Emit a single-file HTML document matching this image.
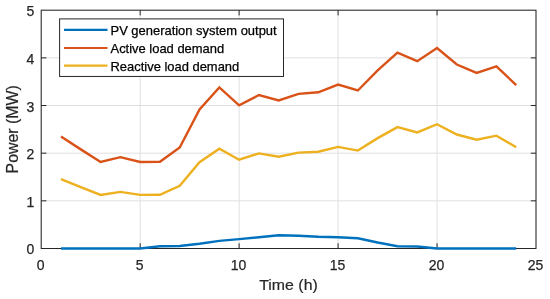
<!DOCTYPE html>
<html><head><meta charset="utf-8"><title>Power</title>
<style>
html,body{margin:0;padding:0;background:#fff;}
body{width:550px;height:299px;overflow:hidden;}
svg{display:block;}
text{font-family:"Liberation Sans",sans-serif;fill:#262626;}
.tk{font-size:14px;stroke:#262626;stroke-width:0.25px;}
.lb{font-size:15.9px;stroke:#262626;stroke-width:0.2px;}
.lg{font-size:12.95px;fill:#000;stroke:#000;stroke-width:0.25px;}
</style></head><body>
<svg width="550" height="299" viewBox="0 0 550 299">
<rect x="0" y="0" width="550" height="299" fill="#fff"/>
<path d="M41.20 10.2 V248.5 M140.16 10.2 V248.5 M239.12 10.2 V248.5 M338.08 10.2 V248.5 M437.04 10.2 V248.5 M536.00 10.2 V248.5 M41.2 248.50 H536.0 M41.2 200.84 H536.0 M41.2 153.18 H536.0 M41.2 105.52 H536.0 M41.2 57.86 H536.0 M41.2 10.20 H536.0" stroke="#dfdfdf" stroke-width="1" fill="none"/>
<path d="M140.16 248.5 v-5.2 M140.16 10.2 v5.2 M239.12 248.5 v-5.2 M239.12 10.2 v5.2 M338.08 248.5 v-5.2 M338.08 10.2 v5.2 M437.04 248.5 v-5.2 M437.04 10.2 v5.2 M41.2 200.84 h5.2 M536.0 200.84 h-5.2 M41.2 153.18 h5.2 M536.0 153.18 h-5.2 M41.2 105.52 h5.2 M536.0 105.52 h-5.2 M41.2 57.86 h5.2 M536.0 57.86 h-5.2" stroke="#262626" stroke-width="1" fill="none"/>
<rect x="41.2" y="10.2" width="494.8" height="238.3" fill="none" stroke="#262626" stroke-width="1"/>
<polyline points="60.99,248.50 80.78,248.50 100.58,248.50 120.37,248.50 140.16,248.50 159.95,246.21 179.74,245.97 199.54,243.73 219.33,240.87 239.12,239.11 258.91,237.30 278.70,235.30 298.50,235.77 318.29,236.82 338.08,237.30 357.87,238.30 377.66,242.54 397.46,246.21 417.25,246.45 437.04,248.50 456.83,248.50 476.62,248.50 496.42,248.50 516.21,248.50" fill="none" stroke="#0072BD" stroke-width="2.4" stroke-linejoin="miter"/>
<polyline points="60.99,136.50 80.78,149.37 100.58,162.00 120.37,157.14 140.16,162.00 159.95,161.76 179.74,147.46 199.54,109.33 219.33,87.41 239.12,105.28 258.91,95.03 278.70,100.42 298.50,93.84 318.29,92.32 338.08,84.55 357.87,90.51 377.66,70.39 397.46,52.62 417.25,61.20 437.04,47.99 456.83,64.53 476.62,72.92 496.42,66.44 516.21,85.03" fill="none" stroke="#D95319" stroke-width="2.4" stroke-linejoin="miter"/>
<polyline points="60.99,179.09 80.78,187.07 100.58,194.89 120.37,191.88 140.16,194.89 159.95,194.75 179.74,185.89 199.54,162.26 219.33,148.67 239.12,159.75 258.91,153.40 278.70,156.74 298.50,152.66 318.29,151.71 338.08,146.90 357.87,150.59 377.66,138.13 397.46,127.11 417.25,132.43 437.04,124.25 456.83,134.50 476.62,139.69 496.42,135.68 516.21,147.20" fill="none" stroke="#EDB120" stroke-width="2.4" stroke-linejoin="miter"/>
<text class="tk" x="40.70" y="270.2" text-anchor="middle">0</text>
<text class="tk" x="139.66" y="270.2" text-anchor="middle">5</text>
<text class="tk" x="238.62" y="270.2" text-anchor="middle">10</text>
<text class="tk" x="337.58" y="270.2" text-anchor="middle">15</text>
<text class="tk" x="436.54" y="270.2" text-anchor="middle">20</text>
<text class="tk" x="535.50" y="270.2" text-anchor="middle">25</text>
<text class="tk" x="34.3" y="254" text-anchor="end">0</text>
<text class="tk" x="34.3" y="207" text-anchor="end">1</text>
<text class="tk" x="34.3" y="159" text-anchor="end">2</text>
<text class="tk" x="34.3" y="112" text-anchor="end">3</text>
<text class="tk" x="34.3" y="64" text-anchor="end">4</text>
<text class="tk" x="34.3" y="16" text-anchor="end">5</text>
<text class="lb" transform="translate(288.5,290) scale(1,0.95)" text-anchor="middle">Time (h)</text>
<text class="lb" transform="translate(17.9,129.3) rotate(-90) scale(1,1.04)" text-anchor="middle">Power (MW)</text>
<rect x="59.6" y="18.9" width="223.9" height="57.55" fill="#fff" stroke="#262626" stroke-width="1"/>
<line x1="64" x2="107.5" y1="29.8" y2="29.8" stroke="#0072BD" stroke-width="2.2"/>
<text class="lg" x="110.5" y="34.5">PV generation system output</text>
<line x1="64" x2="107.5" y1="48.0" y2="48.0" stroke="#D95319" stroke-width="2.2"/>
<text class="lg" x="110.5" y="52.7">Active load demand</text>
<line x1="64" x2="107.5" y1="65.7" y2="65.7" stroke="#EDB120" stroke-width="2.2"/>
<text class="lg" x="110.5" y="70.5">Reactive load demand</text>
</svg></body></html>
